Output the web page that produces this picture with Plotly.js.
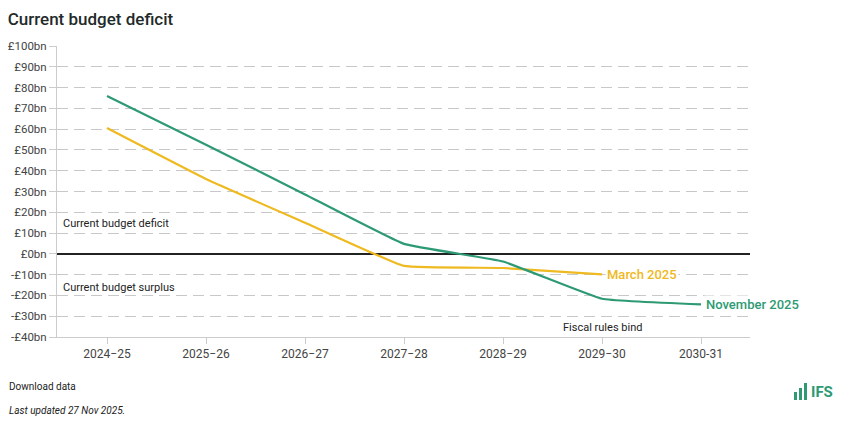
<!DOCTYPE html>
<html>
<head>
<meta charset="utf-8">
<script src="https://cdn.plot.ly/plotly-3.0.1.min.js"></script>
<style>
  html, body { margin: 0; padding: 0; background: #fff; }
  #chart { width: 848px; height: 424px; }
</style>
</head>
<body>
<div id="chart"></div>
<script>
const years = ["2024−25", "2025−26", "2026−27", "2027−28", "2028−29", "2029−30", "2030-31"];
const march2025 = [60.5, 36, 15, -5.8, -6.8, -9.9, null];
const november2025 = [76, 52.5, 28.6, 4.8, -3.7, -21.6, -24.3];
const yTickVals = [100, 90, 80, 70, 60, 50, 40, 30, 20, 10, 0, -10, -20, -30, -40];
const yTickText = ["£100bn", "£90bn", "£80bn", "£70bn", "£60bn", "£50bn", "£40bn", "£30bn", "£20bn", "£10bn", "£0bn", "-£10bn", "-£20bn", "-£30bn", "-£40bn"];

const green = "#2e9a73";
const gold = "#efb920";
const idx = years.map((_, i) => i);

const W = 848, H = 424, ML = 57, MR = 98, MT = 46, MB = 87;
const PW = W - ML - MR, PH = H - MT - MB;
const px = x => (x - ML) / PW;
const py = y => (H - MB - y) / PH;

const traces = [
  { x: idx, y: march2025, type: "scatter", mode: "lines", name: "March 2025",
    line: { color: gold, width: 2.2, shape: "spline", smoothing: 0.3 }, hoverinfo: "skip", connectgaps: false },
  { x: idx, y: november2025, type: "scatter", mode: "lines", name: "November 2025",
    line: { color: green, width: 2.2, shape: "spline", smoothing: 0.3 }, hoverinfo: "skip" }
];

const lastM = march2025.reduce((a, v, i) => v !== null ? i : a, 0);
const lastN = november2025.length - 1;

const bar = (x0, x1, top) => ({ type: "rect", xref: "paper", yref: "paper",
  x0: px(x0), x1: px(x1), y0: py(400), y1: py(top), fillcolor: green, line: { width: 0 } });

const layout = {
  width: W, height: H,
  margin: { l: ML, r: MR, t: MT, b: MB },
  paper_bgcolor: "#fff", plot_bgcolor: "#fff",
  font: { family: "Roboto, sans-serif", color: "#333", size: 11 },
  showlegend: false,
  title: { text: "Current budget deficit", x: 0.009, xanchor: "left", y: 0.955, yanchor: "middle",
    font: { size: 17, color: "#1f2b2a", family: "Roboto, sans-serif", weight: 500 } },
  xaxis: {
    type: "linear", range: [-0.505, 6.495], tickvals: idx, ticktext: years,
    showgrid: false, zeroline: false, showline: true, linecolor: "#cccccc", linewidth: 1,
    ticks: "outside", ticklen: 6, tickcolor: "#cccccc",
    tickfont: { size: 12, color: "#444" }, fixedrange: true
  },
  yaxis: {
    range: [-40, 100], tickvals: yTickVals, ticktext: yTickText,
    showgrid: true, gridcolor: "#c8c8c8", griddash: "11px,6px", gridwidth: 1,
    zeroline: true, zerolinecolor: "#222", zerolinewidth: 1.5,
    showline: true, linecolor: "#cccccc", linewidth: 1,
    ticks: "outside", ticklen: 7, tickcolor: "#cccccc",
    tickfont: { size: 11.5, color: "#444" }, fixedrange: true
  },
  annotations: [
    { xref: "paper", yref: "y", x: px(61), y: 14.5, text: "Current budget deficit", showarrow: false,
      xanchor: "left", yanchor: "middle", font: { size: 11, color: "#222" } },
    { xref: "paper", yref: "y", x: px(61), y: -16, text: "Current budget surplus", showarrow: false,
      xanchor: "left", yanchor: "middle", font: { size: 11, color: "#222" } },
    { xref: "x", yref: "y", x: 5, y: -35.5, text: "Fiscal rules bind", showarrow: false,
      xanchor: "center", yanchor: "middle", font: { size: 11, color: "#222" } },
    { xref: "x", yref: "y", x: lastM, y: march2025[lastM], text: "March 2025", showarrow: false,
      xanchor: "left", yanchor: "middle", xshift: 3, font: { size: 13, color: gold, weight: 500 },
      bgcolor: "#fff" },
    { xref: "x", yref: "y", x: lastN, y: november2025[lastN], text: "November 2025", showarrow: false,
      xanchor: "left", yanchor: "middle", xshift: 3, font: { size: 13, color: green, weight: 500 },
      bgcolor: "#fff" },
    { xref: "paper", yref: "paper", x: px(7), y: py(386), text: "Download data", showarrow: false,
      xanchor: "left", yanchor: "middle", font: { size: 10, color: "#222" } },
    { xref: "paper", yref: "paper", x: px(7), y: py(410), text: "<i>Last updated 27 Nov 2025.</i>", showarrow: false,
      xanchor: "left", yanchor: "middle", font: { size: 10, color: "#222" } },
    { xref: "paper", yref: "paper", x: px(809), y: py(392), text: "<b>IFS</b>", showarrow: false,
      xanchor: "left", yanchor: "middle",
      font: { size: 15, color: green, family: "Liberation Sans Narrow, Roboto, sans-serif" } }
  ],
  shapes: [
    bar(794, 797, 392),
    bar(799, 802, 388),
    bar(804, 807, 383)
  ]
};

Plotly.newPlot("chart", traces, layout, { displayModeBar: false, staticPlot: true });
</script>
</body>
</html>
